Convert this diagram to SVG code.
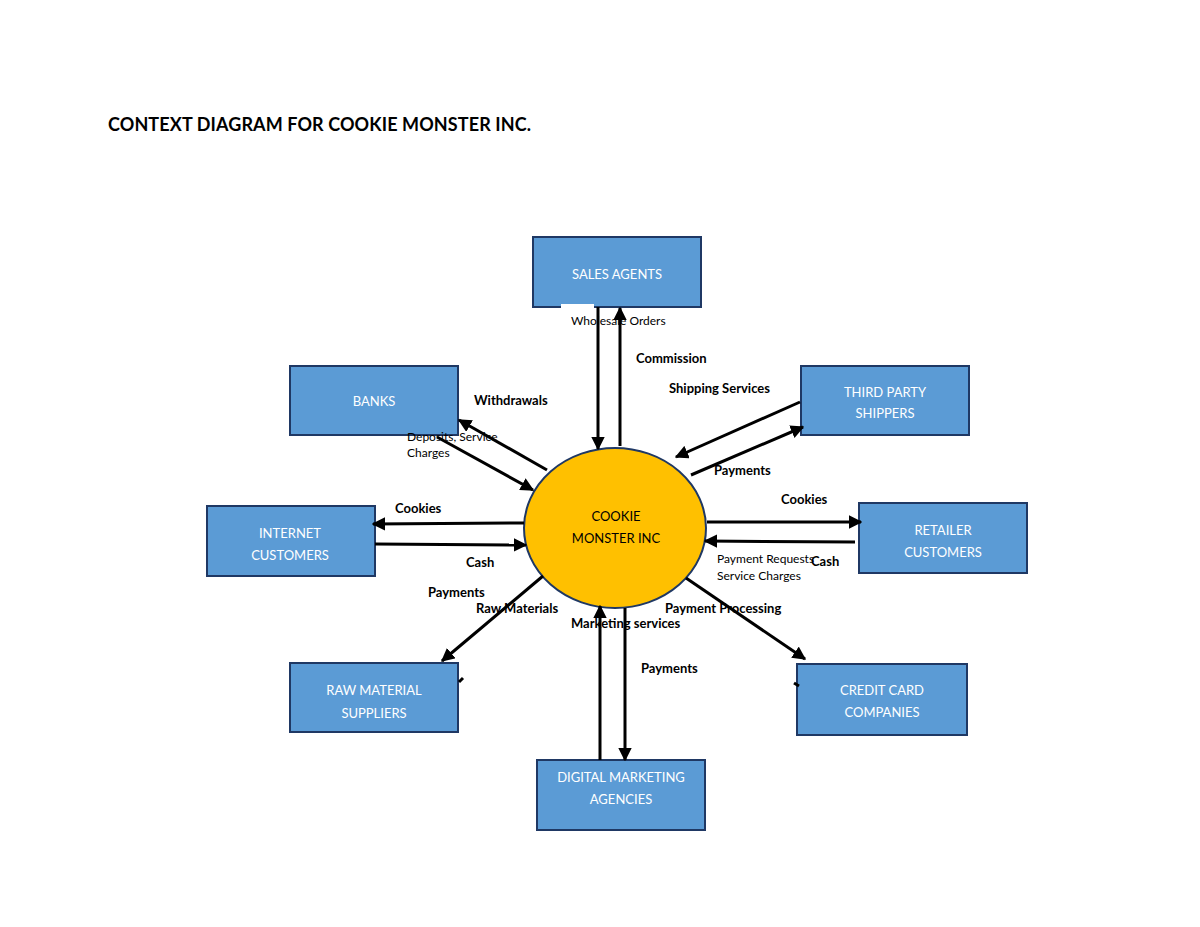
<svg xmlns="http://www.w3.org/2000/svg" width="1200" height="927" viewBox="0 0 1200 927">
<style>
.box{fill:#5B9BD5;stroke:#1F3864;stroke-width:2}
.bt{font-family:Lato,"Liberation Sans",sans-serif;font-size:13px;fill:#FFFFFF;text-anchor:middle}
.lb{font-family:Lato,"Liberation Sans",sans-serif;font-size:13px;font-weight:bold;fill:#000}
.ln{font-family:Lato,"Liberation Sans",sans-serif;font-size:12px;fill:#000}
.c{stroke:#000;stroke-width:3;fill:none;marker-end:url(#ah)}
</style>
<defs>
<marker id="ah" viewBox="0 0 10 10" refX="9" refY="5" markerWidth="4.5" markerHeight="4.5" orient="auto" markerUnits="strokeWidth">
<path d="M0,0 L10,5 L0,10 z" fill="#000"/>
</marker>
</defs>
<rect width="1200" height="927" fill="#fff"/>
<text x="108" y="131" font-family="Lato,'Liberation Sans',sans-serif" font-size="18" font-weight="bold" fill="#000" textLength="423" lengthAdjust="spacing">CONTEXT DIAGRAM FOR COOKIE MONSTER INC.</text>

<g id="sales-agents"><rect class="box" x="533" y="237" width="168" height="70"/><rect x="561" y="304" width="33" height="5" fill="#fff"/><text class="bt" x="617" y="279">SALES AGENTS</text></g>
<g id="banks"><rect class="box" x="290" y="366" width="168" height="69"/><text class="bt" x="374" y="406">BANKS</text></g>
<g id="third-party-shippers"><rect class="box" x="801" y="366" width="168" height="69"/><text class="bt" x="885" y="397">THIRD PARTY</text><text class="bt" x="885" y="418">SHIPPERS</text></g>
<g id="internet-customers"><rect class="box" x="207" y="506" width="168" height="70"/><text class="bt" x="290" y="538">INTERNET</text><text class="bt" x="290" y="560">CUSTOMERS</text></g>
<g id="retailer-customers"><rect class="box" x="859" y="503" width="168" height="70"/><text class="bt" x="943" y="535">RETAILER</text><text class="bt" x="943" y="557">CUSTOMERS</text></g>
<g id="raw-material-suppliers"><rect class="box" x="290" y="663" width="168" height="69"/><text class="bt" x="374" y="695">RAW MATERIAL</text><text class="bt" x="374" y="718">SUPPLIERS</text></g>
<g id="credit-card-companies"><rect class="box" x="797" y="664" width="170" height="71"/><text class="bt" x="882" y="695">CREDIT CARD</text><text class="bt" x="882" y="717">COMPANIES</text></g>
<g id="digital-marketing-agencies"><rect class="box" x="537" y="760" width="168" height="70"/><text class="bt" x="621" y="782">DIGITAL MARKETING</text><text class="bt" x="621" y="804">AGENCIES</text></g>
<g id="cookie-monster-inc"><ellipse cx="615" cy="528" rx="91" ry="80" fill="#FFC000" stroke="#1F3864" stroke-width="2"/><text x="616" y="521" font-family="Lato,'Liberation Sans',sans-serif" font-size="13" fill="#000" text-anchor="middle">COOKIE</text><text x="616" y="543" font-family="Lato,'Liberation Sans',sans-serif" font-size="13" fill="#000" text-anchor="middle">MONSTER INC</text></g>

<g id="labels">
<text class="ln" x="571" y="325">Wholesale Orders</text>
<text class="lb" x="636" y="363">Commission</text>
<text class="lb" x="669" y="393">Shipping Services</text>
<text class="lb" x="474" y="405">Withdrawals</text>
<text class="ln" x="407" y="441">Deposits, Service</text>
<text class="ln" x="407" y="457">Charges</text>
<text class="lb" x="714" y="475">Payments</text>
<text class="lb" x="395" y="513">Cookies</text>
<text class="lb" x="781" y="504">Cookies</text>
<text class="lb" x="466" y="567">Cash</text>
<text class="ln" x="717" y="563" font-size="11.5">Payment Requests</text>
<text class="lb" x="811" y="566">Cash</text>
<text class="ln" x="717" y="580">Service Charges</text>
<text class="lb" x="428" y="597">Payments</text>
<text class="lb" x="476" y="613">Raw Materials</text>
<text class="lb" x="665" y="613">Payment Processing</text>
<text class="lb" x="571" y="628">Marketing services</text>
<text class="lb" x="641" y="673">Payments</text>
</g>

<g id="connectors">
<line class="c" x1="598" y1="307" x2="598" y2="449"/>
<line class="c" x1="620" y1="446" x2="620" y2="308"/>
<line class="c" x1="547" y1="470" x2="459" y2="420"/>
<line class="c" x1="437" y1="437" x2="533" y2="490"/>
<line class="c" x1="800" y1="402" x2="676" y2="457"/>
<line class="c" x1="691" y1="475" x2="803" y2="427"/>
<line class="c" x1="524" y1="523" x2="373" y2="524"/>
<line class="c" x1="375" y1="544" x2="526" y2="545"/>
<line class="c" x1="707" y1="522" x2="861" y2="522"/>
<line class="c" x1="855" y1="542" x2="705" y2="541"/>
<line class="c" x1="543" y1="576" x2="442" y2="661"/>
<line class="c" x1="686" y1="578" x2="805" y2="659"/>
<line class="c" x1="600" y1="760" x2="600" y2="606"/>
<line class="c" x1="625" y1="608" x2="625" y2="760"/>
<line x1="459" y1="682" x2="463" y2="678" stroke="#000" stroke-width="3"/>
<line x1="794" y1="683" x2="799" y2="686" stroke="#000" stroke-width="3"/>
</g>
</svg>
